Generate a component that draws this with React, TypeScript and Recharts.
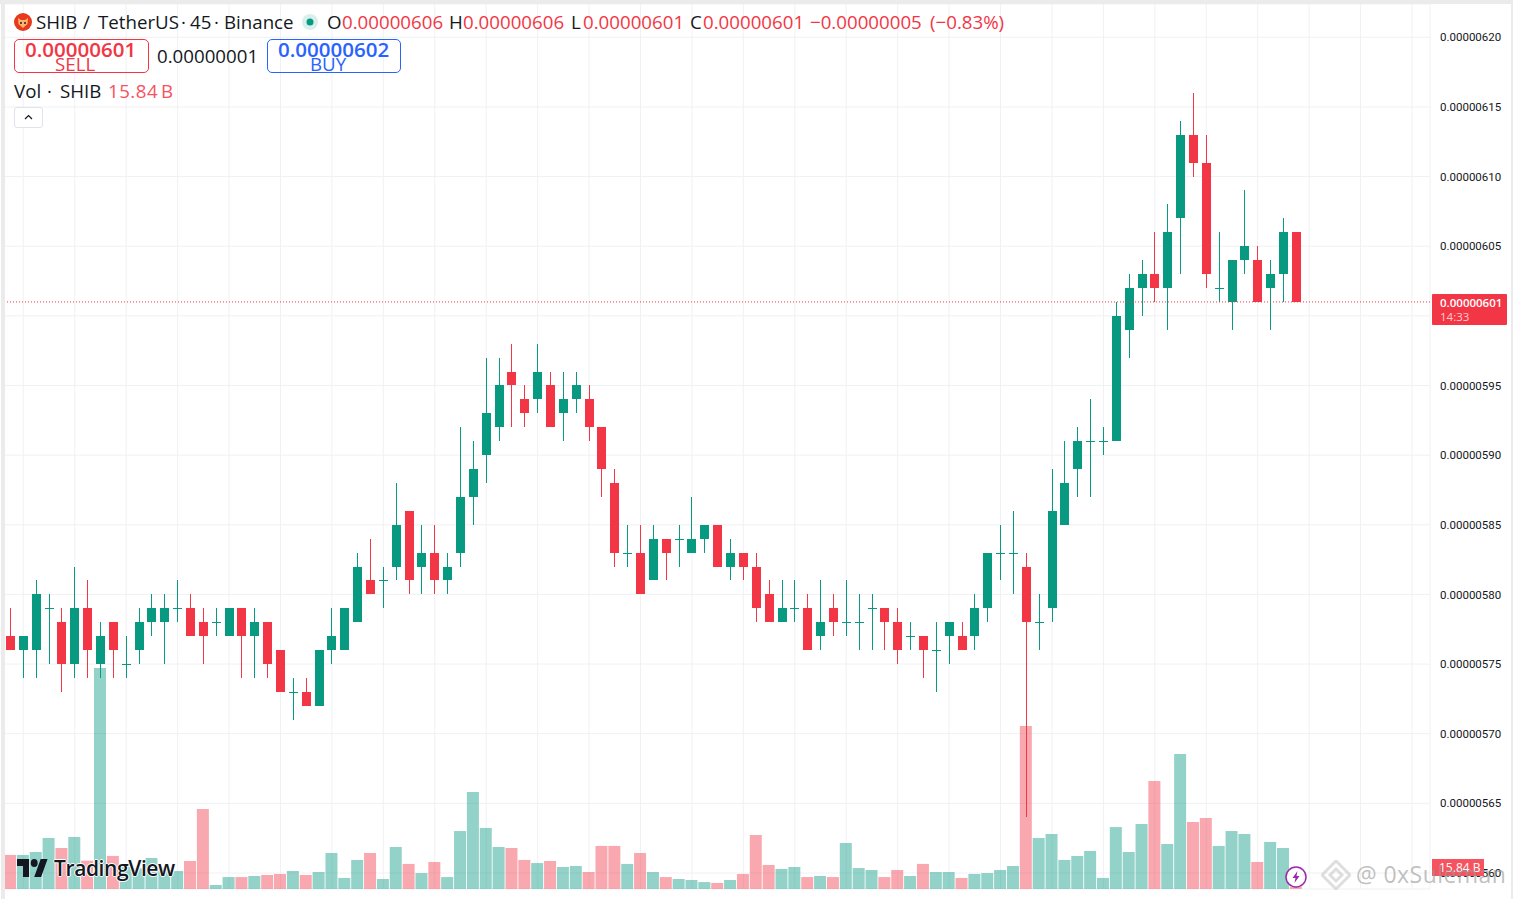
import { Bar, CartesianGrid, Cell, ComposedChart, ReferenceLine, XAxis, YAxis } from "recharts";

// prices are in units of 0.00000001, volumes in billions
const opens = [
  577, 576, 576, 579, 578, 575, 579, 575, 578, 575, 576, 578, 578, 579, 579, 578, 578, 577, 579, 577,
  578, 576, 573, 573, 572, 576, 576, 578, 581, 581, 582, 586, 582, 583, 581, 583, 587, 590, 592, 596,
  594, 594, 595, 593, 594, 594, 592, 588, 583, 583, 581, 584, 584, 583, 584, 585, 582, 583, 582, 580,
  578, 579, 579, 577, 579, 578, 578, 579, 579, 578, 577, 577, 576, 577, 577, 577, 579, 583, 583, 582,
  578, 579, 585, 589, 591, 591, 591, 599, 602, 603, 602, 607, 613, 611, 602, 601, 604, 604, 602, 603, 606,
];
const closes = [
  576, 577, 580, 579, 575, 579, 576, 577, 576, 575, 578, 579, 579, 579, 577, 577, 578, 579, 577, 578,
  575, 573, 573, 572, 576, 577, 579, 582, 580, 581, 585, 581, 583, 581, 582, 587, 589, 593, 595, 595,
  593, 596, 592, 594, 595, 592, 589, 583, 583, 580, 584, 583, 584, 584, 585, 582, 583, 582, 579, 578,
  579, 579, 576, 578, 578, 578, 578, 579, 578, 576, 577, 576, 576, 578, 576, 579, 583, 583, 583, 578,
  578, 586, 588, 591, 591, 591, 600, 602, 603, 602, 606, 613, 611, 603, 602, 604, 605, 601, 603, 606, 601,
];
const highs = [
  579, 577, 581, 580, 579, 582, 581, 578, 578, 577, 579, 580, 580, 581, 580, 579, 579, 579, 579, 579,
  578, 576, 574, 574, 576, 579, 579, 583, 584, 582, 588, 586, 585, 585, 583, 592, 591, 597, 597, 598,
  595, 598, 596, 596, 596, 595, 592, 589, 585, 585, 585, 584, 585, 587, 585, 585, 584, 583, 583, 581,
  581, 581, 580, 581, 580, 581, 580, 580, 579, 579, 578, 577, 578, 578, 578, 580, 583, 585, 586, 583,
  580, 589, 591, 592, 594, 592, 601, 603, 604, 606, 608, 614, 616, 613, 606, 604, 609, 605, 604, 607, 606,
];
const lows = [
  576, 574, 574, 575, 573, 574, 574, 574, 574, 574, 575, 577, 575, 578, 577, 575, 577, 577, 574, 574,
  574, 573, 571, 572, 572, 575, 576, 578, 580, 579, 581, 580, 580, 580, 580, 582, 585, 588, 591, 592,
  592, 593, 592, 591, 593, 591, 587, 582, 582, 580, 581, 581, 582, 583, 583, 582, 581, 581, 578, 578,
  578, 578, 576, 576, 577, 577, 576, 576, 576, 575, 576, 574, 573, 575, 576, 576, 578, 581, 580, 564,
  576, 578, 585, 587, 587, 590, 591, 597, 600, 601, 599, 603, 610, 602, 601, 599, 603, 601, 599, 601, 601,
];
const volumes = [
  231, 231, 251, 346, 278, 353, 192, 1498, 224, 151, 140, 210, 147, 122, 190, 542, 27, 81, 81, 88,
  95, 102, 122, 95, 115, 244, 75, 197, 244, 68, 285, 170, 108, 183, 81, 393, 658, 414, 285, 278,
  197, 176, 190, 149, 156, 115, 292, 292, 170, 244, 115, 81, 68, 61, 47, 41, 61, 102, 366, 163,
  136, 149, 81, 88, 81, 312, 142, 129, 81, 129, 88, 170, 115, 115, 75, 102, 108, 129, 156, 1105,
  346, 373, 197, 224, 258, 75, 420, 251, 441, 732, 305, 915, 454, 481, 292, 393, 373, 183, 319, 278, 15.84,
];

const timeTicks = [1, 5, 9, 13, 17, 21, 25, 29, 33, 37, 41, 45, 49, 53, 57, 61, 65, 69, 73, 77, 81, 85, 89, 93, 97, 101, 105, 109];
const timeLabels = [
  "12:00", "15:00", "18:00", "21:00", "22", "03:00", "06:00", "09:00", "12:00", "15:00", "18:00", "21:00", "23", "03:00",
  "06:00", "09:00", "12:00", "15:00", "18:00", "21:00", "24", "03:00", "06:00", "09:00", "12:00", "15:00", "18:00", "21:00",
];
const priceTicks = [560, 565, 570, 575, 580, 585, 590, 595, 600, 605, 610, 615, 620];

const GREEN = "#089981";
const RED = "#f23645";
const LAST_PRICE = 601;

const candles = opens.map((open, i) => ({
  i,
  open,
  close: closes[i],
  high: highs[i],
  low: lows[i],
  volume: volumes[i],
}));

function Candle(props: any) {
  const { x, y, width, height, payload } = props;
  const perUnit = height / (payload.high - payload.low);
  const color = payload.close >= payload.open ? GREEN : RED;
  const bodyTop = y + (payload.high - Math.max(payload.open, payload.close)) * perUnit;
  const bodyH = Math.max(1, Math.abs(payload.open - payload.close) * perUnit);
  const cx = x + width / 2;
  return (
    <g shapeRendering="crispEdges">
      <rect x={cx - 0.5} y={y} width={1} height={height} fill={color} />
      <rect x={x} y={bodyTop} width={width} height={bodyH} fill={color} />
    </g>
  );
}

function Label({ x, y, color = "#131722", size = 18.7, weight = 400, children, extra }: any) {
  return (
    <div
      style={{
        position: "absolute",
        left: x,
        top: y,
        color,
        fontSize: size,
        fontWeight: weight,
        lineHeight: 1,
        transform: "translateY(-50%)",
        whiteSpace: "nowrap",
        ...extra,
      }}
    >
      {children}
    </div>
  );
}

function Legend() {
  return (
    <>
      <svg style={{ position: "absolute", left: 13, top: 12 }} width={20} height={20}>
        <circle cx={10} cy={10} r={9} fill="#e8391f" />
        <path d="M5 6 L8 8 H12 L15 6 L14.5 12 L10 16 L5.5 12 Z" fill="#ffb26b" />
        <circle cx={8} cy={11} r={1} fill="#222" />
        <circle cx={12} cy={11} r={1} fill="#222" />
      </svg>
      <Label x={36} y={22}>SHIB</Label>
      <Label x={83} y={22}>/</Label>
      <Label x={98} y={22}>TetherUS</Label>
      <Label x={181} y={22}>·</Label>
      <Label x={190} y={22}>45</Label>
      <Label x={214} y={22}>·</Label>
      <Label x={224} y={22}>Binance</Label>
      <svg style={{ position: "absolute", left: 301, top: 13 }} width={18} height={18}>
        <circle cx={9} cy={9} r={8} fill="#d9efeb" />
        <circle cx={9} cy={9} r={3.5} fill={GREEN} />
      </svg>
      <Label x={327} y={22}>O</Label>
      <Label x={342} y={22} color={RED}>0.00000606</Label>
      <Label x={449} y={22}>H</Label>
      <Label x={463} y={22} color={RED}>0.00000606</Label>
      <Label x={571} y={22}>L</Label>
      <Label x={583} y={22} color={RED}>0.00000601</Label>
      <Label x={690} y={22}>C</Label>
      <Label x={703} y={22} color={RED}>0.00000601</Label>
      <Label x={810} y={22} color={RED}>−0.00000005</Label>
      <Label x={930} y={22} color={RED}>(−0.83%)</Label>

      <div style={{ position: "absolute", left: 14, top: 39, width: 133, height: 32, border: `1px solid ${RED}`, borderRadius: 5 }} />
      <Label x={25} y={49} color={RED} size={20.5} weight={600}>0.00000601</Label>
      <Label x={55} y={64} color={RED}>SELL</Label>
      <Label x={157} y={56}>0.00000001</Label>
      <div style={{ position: "absolute", left: 267, top: 39, width: 132, height: 32, border: "1px solid #2962ff", borderRadius: 5 }} />
      <Label x={278} y={49} color="#2962ff" size={20.5} weight={600}>0.00000602</Label>
      <Label x={310} y={64} color="#2962ff">BUY</Label>

      <Label x={14} y={91}>Vol</Label>
      <Label x={47} y={91}>·</Label>
      <Label x={60} y={91}>SHIB</Label>
      <Label x={108} y={91} color="#f7525f" extra={{ letterSpacing: 0.5 }}>15.84</Label>
      <Label x={161} y={91} color="#f7525f">B</Label>
      <div style={{ position: "absolute", left: 14, top: 107, width: 27, height: 19, border: "1px solid #e0e3eb", borderRadius: 3, background: "#fff" }}>
        <svg width={27} height={19}>
          <path d="M10 11 L13.5 7.5 L17 11" fill="none" stroke="#131722" strokeWidth={1.2} />
        </svg>
      </div>
    </>
  );
}

function Overlays() {
  return (
    <>
      <div style={{ position: "absolute", left: 1432, top: 294, width: 75, height: 31, background: RED, borderRadius: 1 }} />
      <Label x={1440} y={303} color="#fff" size={11.5} weight={600}>0.00000601</Label>
      <Label x={1440} y={317} color="#fcc" size={11.5}>14:33</Label>

      <div style={{ position: "absolute", left: 1432, top: 859, width: 52, height: 17, background: "#f7525f" }} />
      <Label x={1439} y={868} color="#fff" size={12}>15.84 B</Label>

      <svg style={{ position: "absolute", left: 17, top: 859 }} width={31} height={18} viewBox="0 4 36 18" preserveAspectRatio="none">
        <path d="M14 22H7V11H0V4h14v18z M28 22h-8l7.5-18h8L28 22z" fill="#131722" />
        <circle cx={20} cy={8} r={4} fill="#131722" />
      </svg>
      <Label
        x={54}
        y={868}
        size={21}
        weight={600}
        color="#131722"
        extra={{ letterSpacing: -0.4, textShadow: "1px 0 #fff, -1px 0 #fff, 0 1px #fff, 0 -1px #fff" }}
      >
        TradingView
      </Label>

      <svg style={{ position: "absolute", left: 1285, top: 866 }} width={22} height={22}>
        <circle cx={11} cy={11} r={10} fill="#fff" stroke="#9c27b0" strokeWidth={1.5} />
        <path d="M12.5 5 L7.5 12 H10.5 L9.5 17 L14.5 10 H11.5 Z" fill="#9c27b0" />
      </svg>
      <svg style={{ position: "absolute", left: 1321, top: 860 }} width={30} height={30} opacity={0.6}>
        <path d="M15 1 L29 15 L15 29 L1 15 Z M15 9 L9 15 L15 21 L21 15 Z" fill="none" stroke="#c9c9c9" strokeWidth={3} />
      </svg>
      <Label x={1356} y={874} size={23} color="rgba(150,150,150,0.6)" extra={{ letterSpacing: 0.45 }}>
        @ 0xSuleman
      </Label>
    </>
  );
}

export default function App() {
  return (
    <div
      style={{
        position: "absolute",
        left: 0,
        top: 0,
        width: 1513,
        height: 899,
        overflow: "hidden",
        background: "#fff",
        fontFamily: '"Open Sans", sans-serif',
      }}
    >
      <ComposedChart
        width={1513}
        height={930}
        data={candles}
        margin={{ top: 4, right: 0, bottom: 11, left: 4 }}
      >
        <CartesianGrid xAxisId="time" yAxisId="price" stroke="#f0f1f4" />
        <XAxis
          xAxisId="time"
          dataKey="i"
          type="number"
          domain={[-0.5, 110.4]}
          ticks={timeTicks}
          interval={0}
          tickFormatter={(v: number) => timeLabels[timeTicks.indexOf(v)]}
          axisLine={false}
          tickLine={false}
          height={30}
          tickMargin={6}
          tick={{ fontSize: 12, fill: "#131722" }}
        />
        <XAxis xAxisId="vol" dataKey="i" type="number" domain={[-0.5, 110.4]} hide />
        <YAxis
          yAxisId="price"
          orientation="right"
          domain={[558.85, 622.39]}
          ticks={priceTicks}
          interval={0}
          tickFormatter={(v: number) => (v / 1e8).toFixed(8)}
          axisLine={false}
          tickLine={false}
          width={83}
          tickMargin={4}
          tick={{ fontSize: 11.5, fill: "#131722", fontFamily: "Roboto" }}
        />
        <YAxis yAxisId="vol" orientation="left" domain={[0, 6000]} hide />
        <Bar xAxisId="vol" yAxisId="vol" dataKey="volume" barSize={12} isAnimationActive={false}>
          {candles.map((c) => (
            <Cell key={c.i} fill={c.close >= c.open ? "rgba(8,153,129,0.44)" : "rgba(242,54,69,0.43)"} />
          ))}
        </Bar>
        <ReferenceLine xAxisId="time" yAxisId="price" y={LAST_PRICE} stroke={RED} strokeDasharray="1 2" />
        <Bar
          xAxisId="time"
          yAxisId="price"
          dataKey={(d: any) => [d.low, d.high]}
          barSize={9}
          shape={Candle}
          isAnimationActive={false}
        />
      </ComposedChart>
      <Legend />
      <Overlays />
      <div style={{ position: "absolute", left: 0, top: 0, width: 1513, height: 4, background: "#ebebeb" }} />
      <div style={{ position: "absolute", left: 1, top: 0, width: 4, height: 899, background: "#ebebeb" }} />
      <div style={{ position: "absolute", left: 1511, top: 0, width: 2, height: 899, background: "#ebebeb" }} />
    </div>
  );
}
